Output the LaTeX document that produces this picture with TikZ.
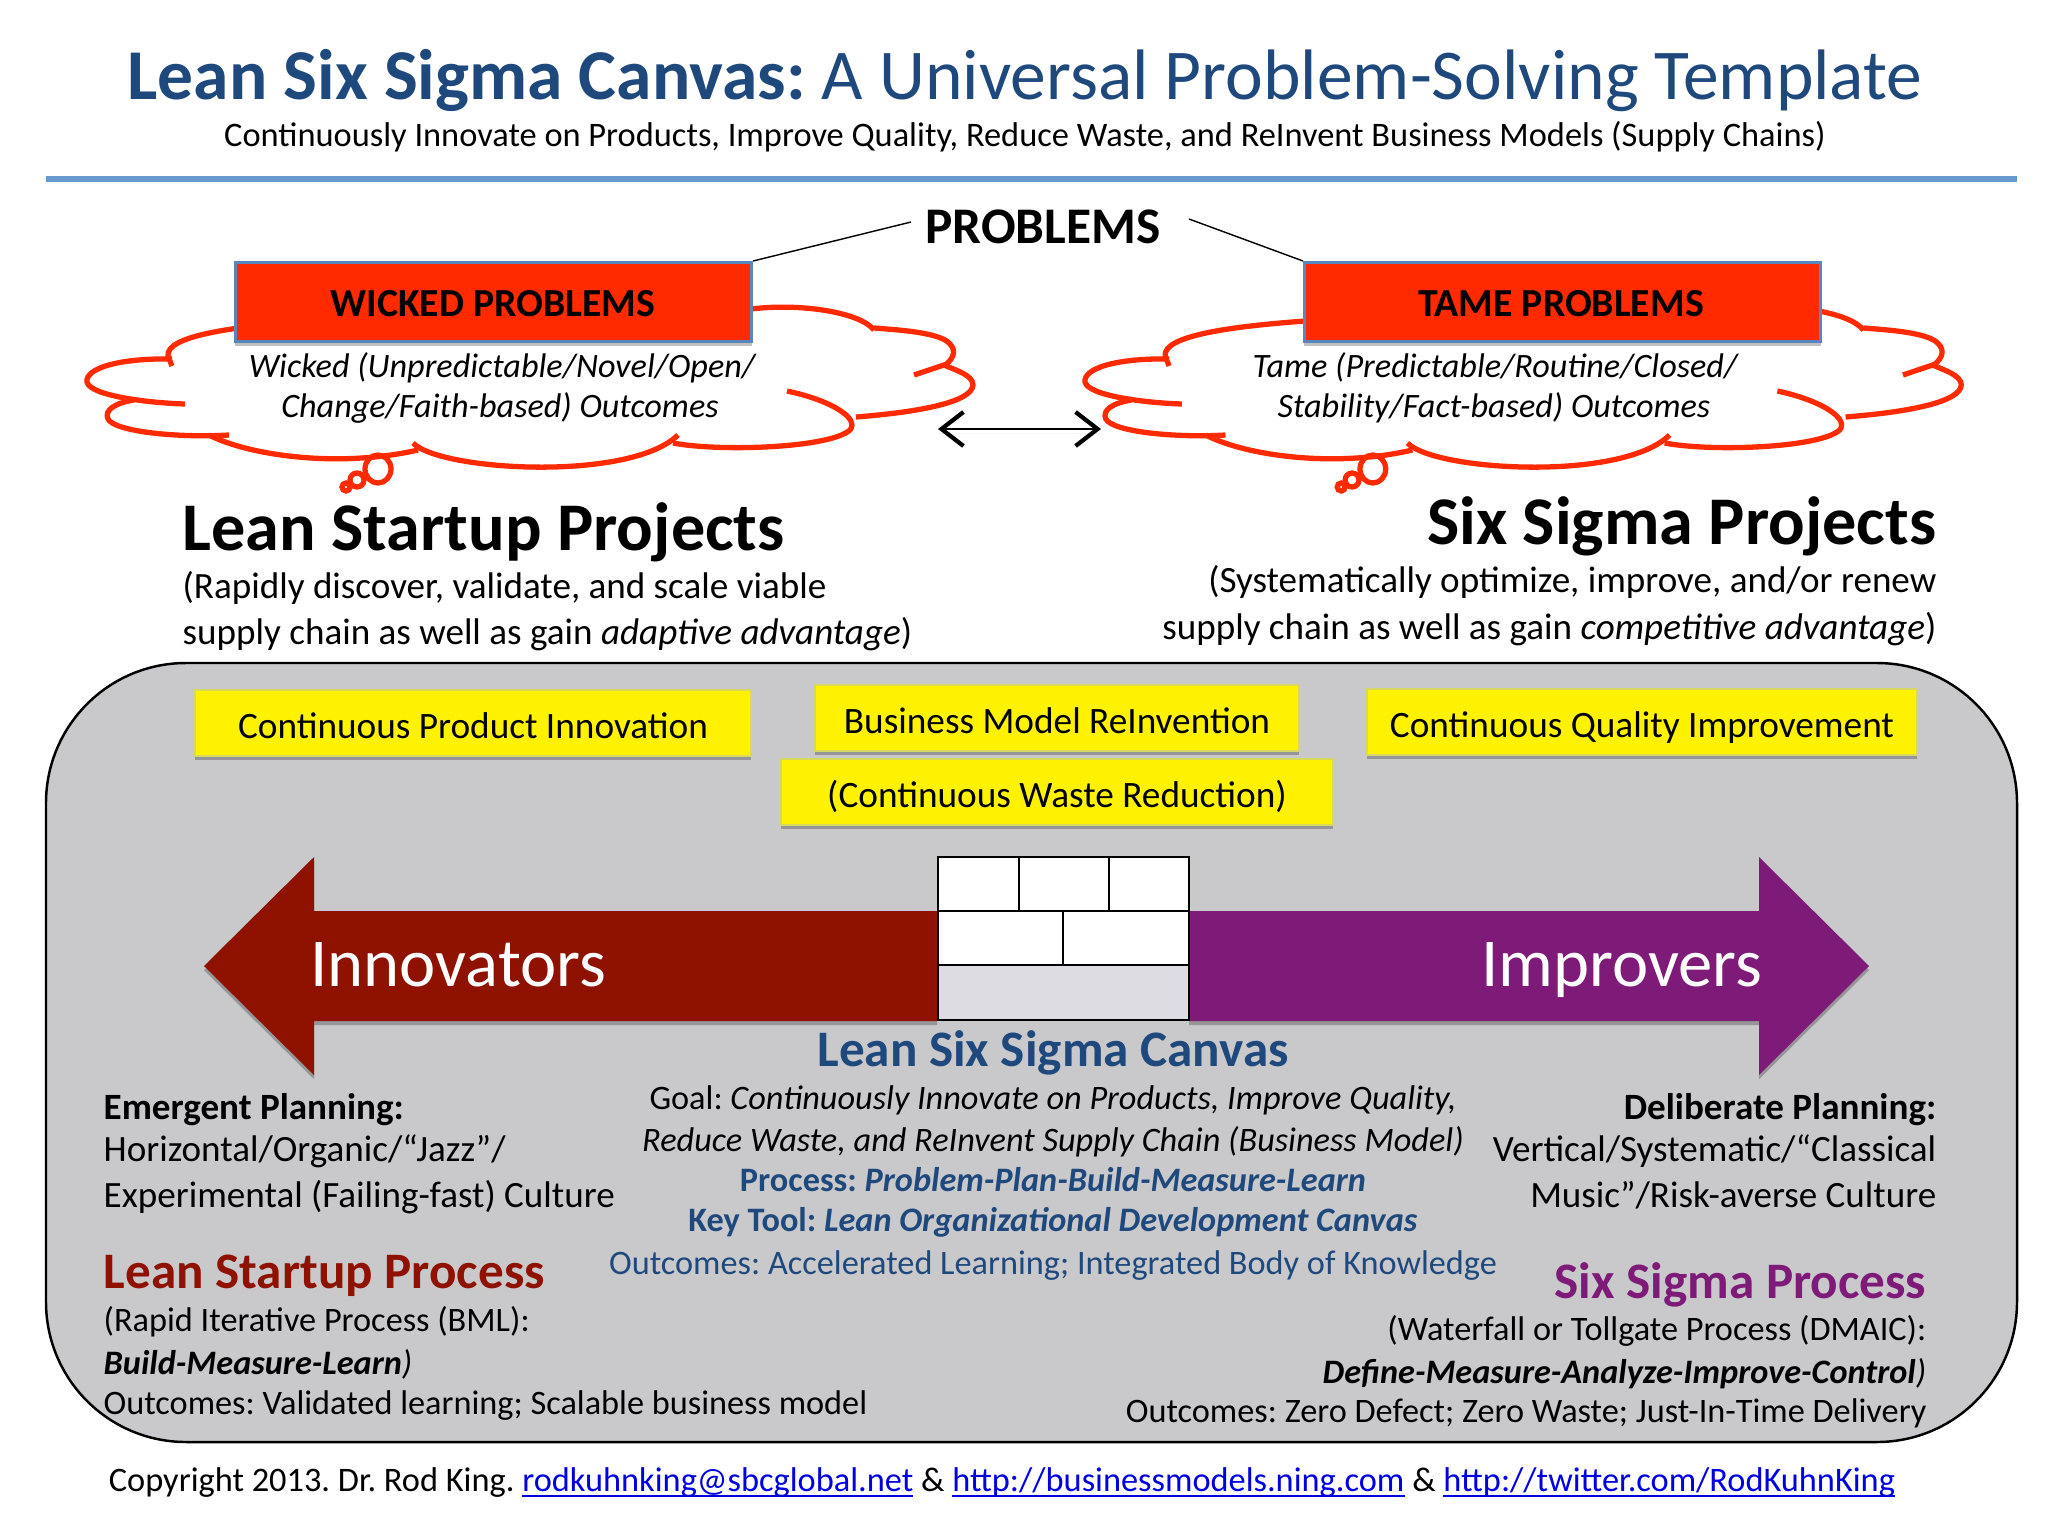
\documentclass[tikz,border=0pt]{standalone}
\usepackage{fontspec}
\setmainfont{Carlito}
\usepackage{xcolor}
\usetikzlibrary{shadows, arrows.meta}

\definecolor{titleblue}{HTML}{1F497D}
\definecolor{rulecol}{HTML}{6699CC}
\definecolor{wickedred}{HTML}{FF2A00}
\definecolor{boxedge}{HTML}{5B85BD}
\definecolor{canvasgrey}{HTML}{C9C9CC}
\definecolor{innovred}{HTML}{8F1200}
\definecolor{improvpurple}{HTML}{7E1A78}
\definecolor{yellowedge}{HTML}{D8D860}
\definecolor{linkblue}{HTML}{0000E0}
\definecolor{iconrow}{HTML}{DDDCE0}

\newcommand{\fsz}[1]{\fontsize{#1pt}{#1pt}\selectfont}
\newcommand{\lnk}[1]{\textcolor{linkblue}{\underline{\smash{#1}}}}
\frenchspacing

\tikzset{
	softshadow/.style={drop shadow={shadow xshift=0pt, shadow yshift=-1.2pt, opacity=0.25, fill=black}},
	txtL/.style={anchor=base west, inner sep=0pt},
	txtR/.style={anchor=base east, inner sep=0pt},
	txtC/.style={anchor=base, inner sep=0pt},
	redbox/.style={draw=boxedge, line width=0.8pt, fill=wickedred, softshadow},
	yellowbox/.style={draw=yellowedge, line width=0.6pt, fill=yellow, softshadow, minimum height=0.66cm, inner ysep=0pt, text height=3.9mm, text depth=0.8mm, font=\fsz{10.6}},
	cloudline/.style={draw=wickedred, line width=1.5pt},
	pics/thoughtcloud/.style={code={
		\draw[cloudline] (310,321) .. controls (240,326) and (165,335) .. (168,356) -- (172,366);
		\draw[cloudline] (172,359) .. controls (120,358) and (85,368) .. (87,382) .. controls (90,396) and (150,403) .. (185,404);
		\draw[cloudline] (134,400) .. controls (115,403) and (104,410) .. (108,419) .. controls (115,432) and (180,438) .. (229,435);
		\draw[cloudline] (209,435) .. controls (250,456) and (340,468) .. (418,450);
		\draw[cloudline] (413,443) .. controls (440,471) and (630,482) .. (678,435);
		\draw[cloudline] (787,391) .. controls (830,400) and (860,418) .. (850,430) .. controls (830,448) and (720,452) .. (673,443);
		\draw[cloudline] (856,417) .. controls (920,412) and (972,402) .. (973,385) .. controls (973,375) and (955,370) .. (944,365) -- (914,375);
		\draw[cloudline] (944,366) .. controls (955,358) and (958,348) .. (945,340) .. controls (930,332) and (900,330) .. (874,328);
		\draw[cloudline] (751,309) .. controls (800,303) and (860,312) .. (874,330);
		% bubbles
		\draw[cloudline] (378,469) ellipse [x radius=13, y radius=14];
		\draw[cloudline] (357,480) circle [radius=7];
		\draw[cloudline] (346,487) circle [radius=4];
	}},
}

\begin{document}
\begin{tikzpicture}[x=0.01cm, y=-0.01cm]
	\useasboundingbox (0,0) rectangle (2048,1536);

	% title
	\node[txtC, text=titleblue, font=\fsz{20.33}] (title) at (1025,99) {\textbf{Lean Six Sigma Canvas:} A Universal Problem-Solving Template};
	\node[txtC, font=\fsz{9.78}] (subtitle) at (1025,146) {Continuously Innovate on Products, Improve Quality, Reduce Waste, and ReInvent Business Models (Supply Chains)};
	\coordinate (ruleL) at (46,179);
	\coordinate (ruleR) at (2017,179);
	\draw[rulecol, line width=1.5pt, softshadow] (ruleL)--(ruleR);

	% clouds
	\pic at (0,0) {thoughtcloud};
	\pic[xscale=0.989] at (999,0) {thoughtcloud};

	% problems
	\node[redbox, minimum width=5.16cm, minimum height=0.79cm, anchor=north west] (wicked) at (234,261) {};
	\node[redbox, minimum width=5.16cm, minimum height=0.79cm, anchor=north west] (tame) at (1303,261) {};
	\node[txtC, font=\fsz{11.3}\bfseries] (wickedlab) at (493,316) {WICKED PROBLEMS};
	\node[txtC, font=\fsz{11.3}\bfseries] (tamelab) at (1561,316) {TAME PROBLEMS};
	\node[txtC, font=\fsz{14.6}\bfseries] (problems) at (1043,243) {PROBLEMS};
	\coordinate (problemsL) at (911,222);
	\coordinate (problemsR) at (1189,219);
	\draw (wicked.north east)--(problemsL);
	\draw (tame.north west)--(problemsR);

	\node[txtC, font=\fsz{9.72}\itshape] (wickedA) at (502,377) {Wicked (Unpredictable/Novel/Open/};
	\node[txtC, font=\fsz{9.72}\itshape] (wickedB) at (500,417) {Change/Faith-based) Outcomes};
	\node[txtC, font=\fsz{9.72}\itshape] (tameA) at (1495,377) {Tame (Predictable/Routine/Closed/};
	\node[txtC, font=\fsz{9.72}\itshape] (tameB) at (1494,417) {Stability/Fact-based) Outcomes};

	% arrow between clouds
	\coordinate (linkL) at (938,429);
	\coordinate (linkR) at (1101,429);
	\draw[{Straight Barb[length=2.2mm, width=3.4mm, line width=1.2pt]}-{Straight Barb[length=2.2mm, width=3.4mm, line width=1.2pt]}, line width=0.6pt, softshadow] (linkL)--(linkR);

	% projects
	\node[txtL, font=\fsz{19.4}\bfseries] (leanhead) at (182,550) {Lean Startup Projects};
	\node[txtL, font=\fsz{10.55}] (leanA) at (182,598) {(Rapidly discover, validate, and scale viable};
	\node[txtL, font=\fsz{10.55}] (leanB) at (182,644) {supply chain as well as gain \textit{adaptive advantage})};
	\node[txtR, font=\fsz{19.4}\bfseries] (sixhead) at (1937,544) {Six Sigma Projects};
	\node[txtR, font=\fsz{10.55}] (sixA) at (1937,592) {(Systematically optimize, improve, and/or renew};
	\node[txtR, font=\fsz{10.55}] (sixB) at (1937,639) {supply chain as well as gain \textit{competitive advantage})};

	% canvas background
	\draw[fill=canvasgrey, line width=0.7pt, rounded corners=1.4cm] (46,663) rectangle (2017,1442);

	% yellow boxes
	\node[yellowbox, minimum width=5.56cm] (innovbox) at (473,723) {Continuous Product Innovation};
	\node[yellowbox, minimum width=4.84cm] (bizbox) at (1057,718) {Business Model ReInvention};
	\node[yellowbox, minimum width=5.50cm] (qualbox) at (1642,722) {Continuous Quality Improvement};
	\node[yellowbox, minimum width=5.51cm] (wastebox) at (1057,792) {(Continuous Waste Reduction)};

	% arrows
	\fill[innovred, softshadow] (937,911)--(314,911)--(314,857)--(204,966)--(314,1075)--(314,1021)--(937,1021)--cycle;
	\fill[improvpurple, softshadow] (1189,911)--(1759,911)--(1759,857)--(1869,966)--(1759,1075)--(1759,1021)--(1189,1021)--cycle;
	\node[txtL, text=white, font=\fsz{19.5}] (innovlab) at (310,986) {Innovators};
	\node[txtR, text=white, font=\fsz{19.5}] (improvlab) at (1763,986) {Improvers};

	% canvas icon
	\fill[white] (938,857) rectangle (1189,965);
	\fill[iconrow] (938,965) rectangle (1189,1020);
	\draw[line width=0.8pt] (938,857) rectangle (1189,1020);
	\draw[line width=0.8pt] (938,911)--(1189,911);
	\draw[line width=0.8pt] (938,965)--(1189,965);
	\draw[line width=0.5pt] (1019,857)--(1019,911);
	\draw[line width=0.5pt] (1109,857)--(1109,911);
	\draw[line width=0.5pt] (1063,911)--(1063,965);

	% centre text
	\node[txtC, text=titleblue, font=\fsz{14.55}\bfseries] (canvashead) at (1053,1066) {Lean Six Sigma Canvas};
	\node[txtC, font=\fsz{9.75}] (goalA) at (1053,1109) {Goal: \textit{Continuously Innovate on Products, Improve Quality,}};
	\node[txtC, font=\fsz{9.75}\itshape] (goalB) at (1053,1151) {Reduce Waste, and ReInvent Supply Chain (Business Model)};
	\node[txtC, text=titleblue, font=\fsz{9.75}\bfseries] (procline) at (1053,1191) {Process: \textit{Problem-Plan-Build-Measure-Learn}};
	\node[txtC, text=titleblue, font=\fsz{9.75}\bfseries] (toolline) at (1053,1231) {Key Tool: \textit{Lean Organizational Development Canvas}};
	\node[txtC, text=titleblue, font=\fsz{9.75}] (outline) at (1053,1274) {Outcomes: Accelerated Learning; Integrated Body of Knowledge};

	% left text
	\node[txtL, font=\fsz{10.55}\bfseries] (emergent) at (103,1119) {Emergent Planning:};
	\node[txtL, font=\fsz{10.55}] (emergentA) at (103,1161) {Horizontal/Organic/“Jazz”/};
	\node[txtL, font=\fsz{10.55}] (emergentB) at (103,1207) {Experimental (Failing-fast) Culture};
	\node[txtL, text=innovred, font=\fsz{14.55}\bfseries] (startuphead) at (103,1288) {Lean Startup Process};
	\node[txtL, font=\fsz{9.75}] (startupA) at (103,1331) {(Rapid Iterative Process (BML):};
	\node[txtL, font=\fsz{9.75}] (startupB) at (103,1374) {\textbf{\textit{Build-Measure-Learn}}\textit{)}};
	\node[txtL, font=\fsz{9.75}] (startupC) at (103,1414) {Outcomes: Validated learning; Scalable business model};

	% right text
	\node[txtR, font=\fsz{10.55}\bfseries] (deliberate) at (1937,1119) {Deliberate Planning:};
	\node[txtR, font=\fsz{10.55}] (deliberateA) at (1937,1161) {Vertical/Systematic/“Classical};
	\node[txtR, font=\fsz{10.55}] (deliberateB) at (1937,1207) {Music”/Risk-averse Culture};
	\node[txtR, text=improvpurple, font=\fsz{14.55}\bfseries] (sigmahead) at (1927,1298) {Six Sigma Process};
	\node[txtR, font=\fsz{9.75}] (sigmaA) at (1927,1340) {(Waterfall or Tollgate Process (DMAIC):};
	\node[txtR, font=\fsz{9.75}] (sigmaB) at (1927,1383) {\textbf{\textit{Define-Measure-Analyze-Improve-Control}}\textit{)}};
	\node[txtR, font=\fsz{9.75}] (sigmaC) at (1927,1422) {Outcomes: Zero Defect; Zero Waste; Just-In-Time Delivery};

	% copyright
	\node[txtC, font=\fsz{9.77}] (copyline) at (1002,1491) {Copyright 2013. Dr. Rod King. \lnk{rodkuhnking@sbcglobal.net} \& \lnk{http://businessmodels.ning.com} \& \lnk{http://twitter.com/RodKuhnKing}};
\end{tikzpicture}
\end{document}
